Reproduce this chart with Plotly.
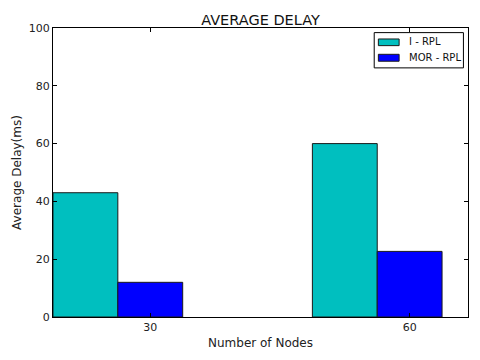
import plotly.graph_objects as go

# ---- data ----
nodes = ["30", "60"]
i_rpl = [43, 60]
mor_rpl = [12, 22.7]
series_names = ["I - RPL", "MOR - RPL"]
colors = ["#00BFBF", "#0000FF"]

pos = list(range(len(nodes)))
bw = 0.25

fig = go.Figure()
for vals, name, col, off in [(i_rpl, series_names[0], colors[0], 0.0),
                             (mor_rpl, series_names[1], colors[1], bw)]:
    fig.add_trace(go.Bar(
        x=pos, y=vals, name=name, width=bw, offset=off,
        marker=dict(color=col, line=dict(color="#1a1a1a", width=1)),
        showlegend=False,
    ))

font = "DejaVu Sans"
W, H = 472, 352  # page body has an 8px margin
fig.update_layout(
    width=W, height=H,
    margin=dict(l=45, r=12, t=20, b=43, autoexpand=False),
    paper_bgcolor="white", plot_bgcolor="white",
    barmode="overlay",
    font=dict(family=font, size=11, color="#222"),
    title=dict(text="AVERAGE DELAY", x=0.5, xref="paper", xanchor="center",
               y=1 - 12 / H, yref="container", yanchor="middle",
               font=dict(size=14.5, color="#111")),
    xaxis=dict(range=[0, 1.6], tickvals=[p + 1.5 * bw for p in pos], ticktext=nodes,
               ticks="inside", ticklen=4, tickcolor="black", automargin=False,
               showline=True, linecolor="black", linewidth=1, mirror="ticks",
               showgrid=False, zeroline=False,
               title=dict(text="Number of Nodes", standoff=5, font=dict(size=12))),
    yaxis=dict(range=[0, 100], tickvals=[0, 20, 40, 60, 80, 100],
               ticks="inside", ticklen=4, tickcolor="black", automargin=False,
               showline=True, linecolor="black", linewidth=1, mirror="ticks",
               showgrid=False, zeroline=False,
               title=dict(text="Average Delay(ms)", standoff=4, font=dict(size=12))),
)

# legend box (matplotlib-style)
x0, x1 = 0.774, 0.989
y0, y1 = 0.862, 0.984
fig.add_shape(type="rect", xref="paper", yref="paper", x0=x0, x1=x1, y0=y0, y1=y1,
              line=dict(color="black", width=1), fillcolor="white")
rows = [(0.939, 0.962, 0.952), (0.885, 0.909, 0.897)]
for (sy0, sy1, ty), name, col in zip(rows, series_names, colors):
    fig.add_shape(type="rect", xref="paper", yref="paper", x0=0.784, x1=0.834,
                  y0=sy0, y1=sy1, line=dict(color="#1a1a1a", width=1), fillcolor=col)
    fig.add_annotation(xref="paper", yref="paper", x=0.853, y=ty, text=name,
                       showarrow=False, xanchor="left", yanchor="middle",
                       font=dict(size=10, color="#111", family=font))

fig.write_html("out.html")
